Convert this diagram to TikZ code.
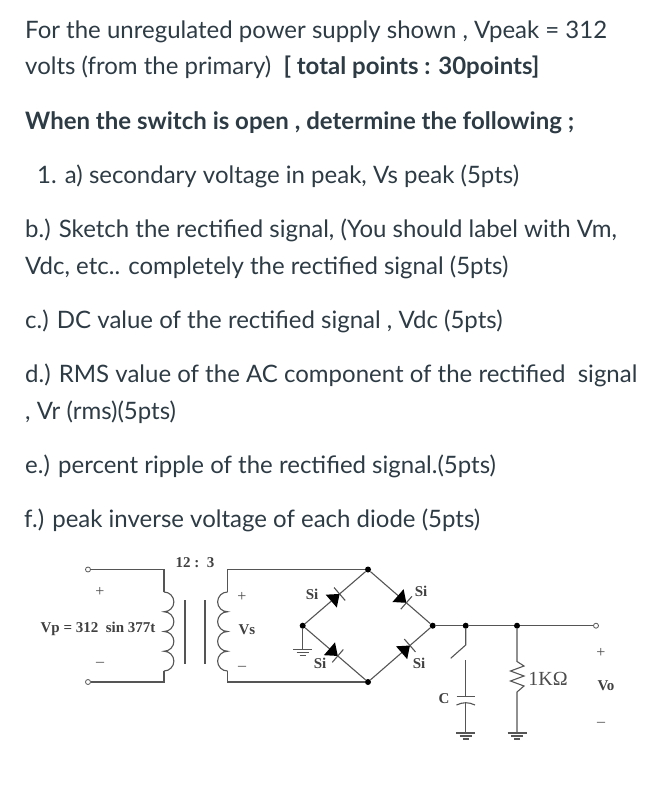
\documentclass[tikz,border=0pt]{standalone}
\usepackage{fontspec}
\setmainfont{Lato}
\newfontfamily\labfont{Liberation Serif}
\usepackage{tikz}
\usetikzlibrary{calc}
\definecolor{txt}{HTML}{2D3B45}
\definecolor{wire}{HTML}{555555}
\tikzset{
line/.style={text=txt,anchor=base west,font=\fontsize{24}{24}\selectfont,inner sep=0pt},
lab/.style={font=\labfont\fontsize{15}{15}\selectfont\bfseries,text=black!75,inner sep=0pt},
sign/.style={font=\labfont\fontsize{16}{16}\selectfont,text=black!70,inner sep=0pt},
conn/.style={draw=wire,line width=1.1pt},
dot/.style={circle,fill=black,inner sep=0pt,minimum size=6pt},
term/.style={circle,draw=wire,fill=white,inner sep=0pt,minimum size=5pt,line width=.8pt},
diode/.pic={\fill[black] (-11,-8.5) -- (-11,8.5) -- (0,0) -- cycle;\draw[conn] (0,-8.5) -- (0,8.5);}
}
\newcommand{\gnd}[1]{\draw[conn] ($(#1)+(-9.5,0)$) -- ($(#1)+(9.5,0)$) ($(#1)+(-6,3)$) -- ($(#1)+(6,3)$) ($(#1)+(-3,6)$) -- ($(#1)+(3,6)$);}
\begin{document}
\begin{tikzpicture}[x=1pt,y=-1pt]
\useasboundingbox (0,0) rectangle (654,786);
\node[line] (t1) at (25,38.7) {For the unregulated power supply shown , Vpeak = 312};
\node[line] (t2) at (25,74.7) {volts (from the primary)\ \ \textbf{[ total points : 30points]}};
\node[line] (t3) at (25,129.7) {\textbf{When the switch is open , determine the following ;}};
\node[line] (t4) at (37,183.7) {1. a) secondary voltage in peak, Vs peak (5pts)};
\node[line] (t5) at (25,237.7) {b.) Sketch the rectified signal, (You should label with Vm,};
\node[line] (t6) at (25,274.7) {Vdc, etc.. completely the rectified signal (5pts)};
\node[line] (t7) at (25,328.7) {c.) DC value of the rectified signal , Vdc (5pts)};
\node[line] (t8) at (25,382.7) {d.) RMS value of the AC component of the rectified\ \ signal};
\node[line] (t9) at (25,419.7) {, Vr (rms)(5pts)};
\node[line] (t10) at (25,473.7) {e.) percent ripple of the rectified signal.(5pts)};
\node[line] (t11) at (24,527.7) {f.) peak inverse voltage of each diode (5pts)};

% transformer
\node[term] (pt) at (88,569.5) {};
\node[term] (pb) at (88,682) {};
\coordinate (pc1) at (164,592);
\coordinate (pc2) at (164,671);
\coordinate (sc1) at (227.5,592);
\coordinate (sc2) at (227.5,671);
\draw[conn] (pt) -| (pc1);
\draw[conn] (pb) -| (pc2);
\draw[conn] (pc1) \foreach \i in {0,1,2,3} {arc (-90:90:9.875)};
\draw[conn] (sc1) \foreach \i in {0,1,2,3} {arc (270:90:9.875)};
\draw[conn] (185,600) -- (185,664);
\draw[conn] (205,600) -- (205,664);

% bridge
\node[dot] (top) at (368,569.5) {};
\node[dot] (left) at (302.7,625.7) {};
\node[dot] (right) at (432.7,625.7) {};
\node[dot] (bot) at (368,682) {};
\node[dot] (jc) at (465.7,625.7) {};
\node[dot] (jr) at (517,625.7) {};
\node[term] (out) at (596,625.7) {};
\draw[conn] (sc1) |- (top);
\draw[conn] (sc2) |- (bot);
\draw[conn] (left) -- (top) -- (right) -- (bot) -- (left);
\draw[conn] (right) -- (jc) -- (jr) -- (out);
\path (left) -- (top) pic[pos=.57,sloped] {diode};
\path (top) -- (right) pic[pos=.6,sloped] {diode};
\path (left) -- (bot) pic[pos=.54,sloped] {diode};
\path (bot) -- (right) pic[pos=.66,sloped] {diode};

% ground at bridge
\coordinate (g1) at (302.7,649.3);
\draw[conn] (left) -- (g1);
\gnd{g1}

% switch and capacitor
\coordinate (s1) at (465.7,645);
\coordinate (s2) at (450.7,658.3);
\coordinate (c1) at (465.7,660);
\coordinate (c2) at (465.7,696.5);
\coordinate (c3) at (465.7,702);
\coordinate (g2) at (465.7,733);
\draw[conn] (jc) -- (s1) -- (s2);
\draw[conn] (c1) -- (c2);
\draw[conn] (c3) -- (g2);
\draw[conn] (456.5,696.5) -- (475,696.5);
\draw[conn] (456.5,705) to[bend left=25] (475,705);
\gnd{g2}

% resistor
\coordinate (r1) at (517,661.5);
\coordinate (r2) at (517,692);
\coordinate (g3) at (517,733);
\draw[conn] (jr) -- (r1) -- (524,666) -- (510.5,671) -- (524,676) -- (510.5,681) -- (524,686) -- (r2) -- (g3);
\gnd{g3}

% labels
\node[lab] (ratio) at (195,563) {12 :\ \ 3};
\node[lab] (vp) at (98,629) {Vp = 312\ \ sin 377t};
\node[sign] at (100,592) {+};
\node[sign] at (100,664) {–};
\node[sign] at (242,597) {+};
\node[lab] (vs) at (247,630) {Vs};
\node[sign] at (242,668) {–};
\node[lab] at (312,594) {Si};
\node[lab] at (421,591) {Si};
\node[lab] at (320,663) {Si};
\node[lab] at (419,663) {Si};
\node[lab] at (444,699) {C};
\node[sign,font=\labfont\fontsize{20}{20}\selectfont] (rv) at (548,679) {1KΩ};
\node[sign] at (601,653) {+};
\node[lab] (vo) at (606,686) {Vo};
\node[sign] at (601,724) {–};
\end{tikzpicture}
\end{document}
